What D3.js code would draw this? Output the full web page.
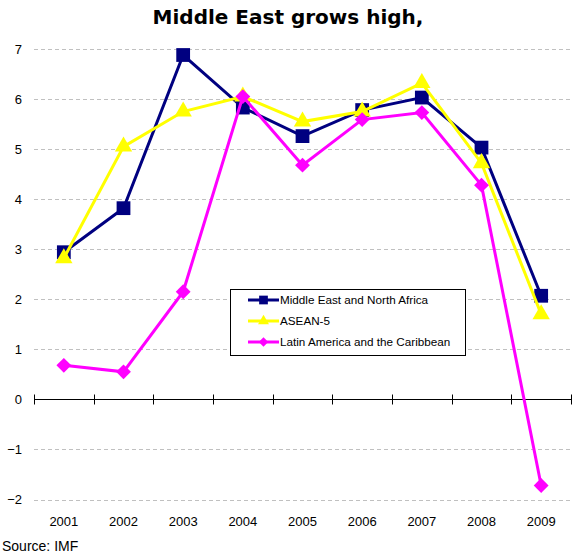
<!DOCTYPE html>
<html><head><meta charset="utf-8">
<script src="https://cdn.jsdelivr.net/npm/d3@7"></script>
<style>body{margin:0;background:#fff}svg{display:block}</style>
</head><body>
<svg id="c" width="575" height="554"></svg>
<script>
const years = ["2001","2002","2003","2004","2005","2006","2007","2008","2009"];
const mena  = [2.94, 3.82, 6.88, 5.83, 5.26, 5.78, 6.03, 5.03, 2.07];
const asean = [2.82, 5.05, 5.75, 6.05, 5.55, 5.75, 6.32, 4.72, 1.70];
const latam = [0.68, 0.55, 2.15, 6.05, 4.68, 5.59, 5.73, 4.28, -1.72];
const seriesNames = ["Middle East and North Africa", "ASEAN-5", "Latin America and the Caribbean"];
const yTicks = [-2, -1, 0, 1, 2, 3, 4, 5, 6, 7];

const series = [
  {name: seriesNames[0], values: mena,  color: "#000080", symbol: d3.symbolSquare,   size: 190, rot: 0},
  {name: seriesNames[1], values: asean, color: "#FFFF00", symbol: d3.symbolTriangle, size: 130, rot: 0},
  {name: seriesNames[2], values: latam, color: "#FF00FF", symbol: d3.symbolSquare,   size: 110, rot: 45}
];

const svg = d3.select("#c");
const x = d3.scaleBand().domain(years).range([34, 571]);
const y = d3.scaleLinear().domain([-2, 7]).range([499.5, 49]);

// title
svg.append("text").attr("x", 288).attr("y", 24).attr("text-anchor", "middle")
  .style("font-family", "'DejaVu Sans', sans-serif").style("font-weight", "bold")
  .style("font-size", "20px").text("Middle East grows high,");

// gridlines
svg.append("g").selectAll("line").data(yTicks.filter(d => d !== 0)).join("line")
  .attr("x1", 34).attr("x2", 572)
  .attr("y1", d => Math.round(y(d)) + 0.5).attr("y2", d => Math.round(y(d)) + 0.5)
  .attr("stroke", "#c0c0c0").attr("stroke-dasharray", "4,3");

// y labels
const yAxis = d3.axisLeft(y).tickValues(yTicks).tickSize(0).tickPadding(0)
  .tickFormat(d => d < 0 ? "\u2212" + Math.abs(d) : d);
const gy = svg.append("g").attr("transform", "translate(22,0)").call(yAxis);
gy.select(".domain").remove();
gy.selectAll("text").style("font-family", "'Liberation Sans', Arial, sans-serif").style("font-size", "13px").attr("fill", "#000");

// zero axis with ticks at band boundaries
const y0 = Math.round(y(0)) + 0.5;
const g0 = svg.append("g");
g0.append("line").attr("x1", 34).attr("x2", 571).attr("y1", y0).attr("y2", y0).attr("stroke", "#000");
const bounds = years.map(d => x(d)).concat([x(years[years.length - 1]) + x.bandwidth()]);
g0.selectAll("line.t").data(bounds).join("line").attr("class", "t")
  .attr("x1", d => Math.round(d) + 0.5).attr("x2", d => Math.round(d) + 0.5)
  .attr("y1", y0 - 5).attr("y2", y0 + 5).attr("stroke", "#000");

// x labels
const xAxis = d3.axisBottom(x).tickSize(0).tickPadding(0);
const gx = svg.append("g").attr("transform", "translate(0,517)").call(xAxis);
gx.select(".domain").remove();
gx.selectAll("text").style("font-family", "'Liberation Sans', Arial, sans-serif").style("font-size", "13px").attr("fill", "#000");

// series
const cx = d => x(d) + x.bandwidth() / 2;
series.forEach(s => {
  const pts = years.map((yr, i) => [cx(yr), y(s.values[i])]);
  svg.append("path").attr("d", d3.line()(pts)).attr("fill", "none")
    .attr("stroke", s.color).attr("stroke-width", 3).attr("stroke-linejoin", "miter");
  svg.append("g").selectAll("path").data(pts).join("path")
    .attr("transform", p => `translate(${p[0]},${p[1]}) rotate(${s.rot})`)
    .attr("d", d3.symbol().type(s.symbol).size(s.size)).attr("fill", s.color);
});

// legend
const lg = svg.append("g");
lg.append("rect").attr("x", 230.5).attr("y", 289.5).attr("width", 235).attr("height", 66)
  .attr("fill", "#fff").attr("stroke", "#000");
series.forEach((s, i) => {
  const ly = 300 + i * 21;
  lg.append("line").attr("x1", 248).attr("x2", 279).attr("y1", ly).attr("y2", ly)
    .attr("stroke", s.color).attr("stroke-width", 3);
  lg.append("path").attr("transform", `translate(263.5,${ly}) rotate(${s.rot})`)
    .attr("d", d3.symbol().type(s.symbol).size(s.size * 0.4)).attr("fill", s.color);
  lg.append("text").attr("x", 280).attr("y", ly + 4)
    .style("font-family", "'Liberation Sans', Arial, sans-serif").style("font-size", "11.7px")
    .text(s.name);
});

// source
svg.append("text").attr("x", 2).attr("y", 551)
  .style("font-family", "'Liberation Sans', Arial, sans-serif").style("font-size", "14px")
  .text("Source: IMF");
</script>
</body></html>
